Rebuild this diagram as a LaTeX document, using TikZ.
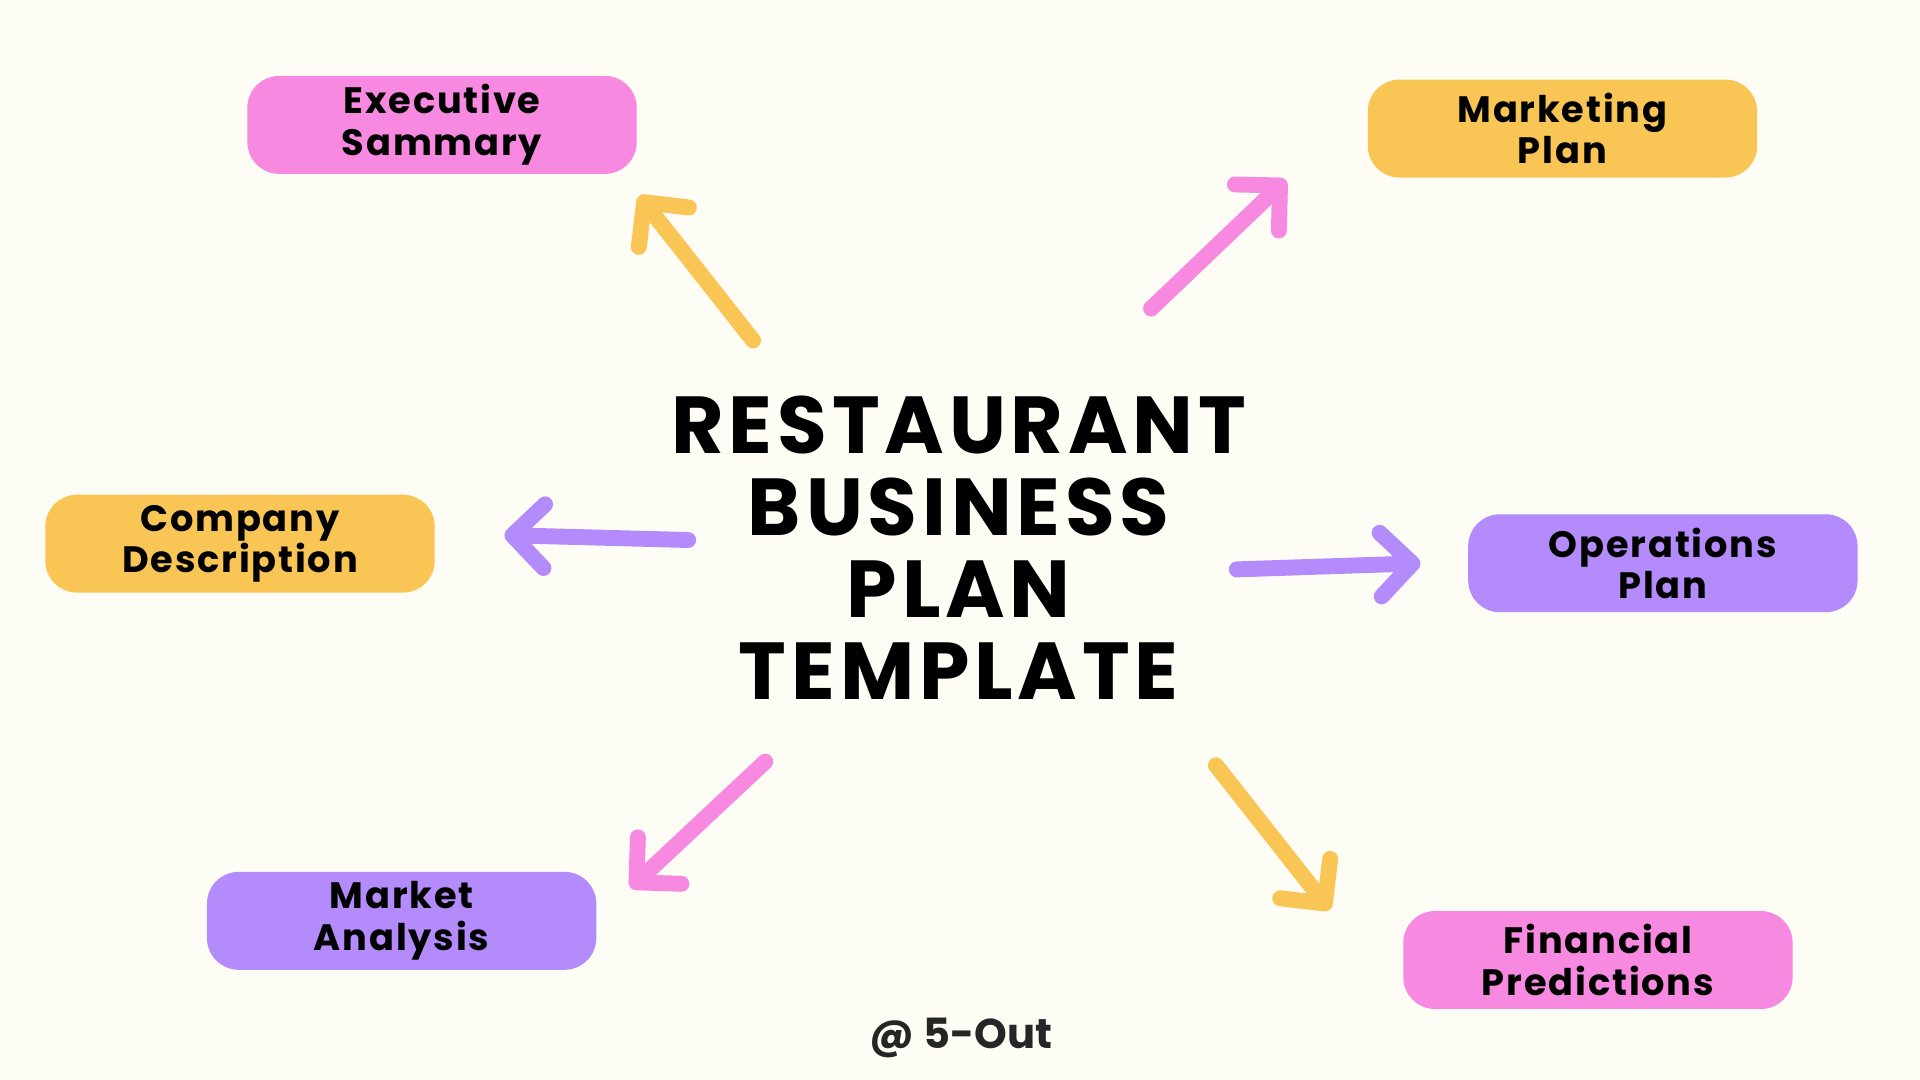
\documentclass[tikz,border=0pt]{standalone}
\usepackage{fontspec}
\setmainfont{Poppins}
\usetikzlibrary{arrows.meta}
\definecolor{bg}{HTML}{FEFDF5}
\definecolor{pk}{HTML}{F78AE0}
\definecolor{og}{HTML}{F9C555}
\definecolor{pu}{HTML}{B38BFA}
\tikzset{
 box/.style={rounded corners=13pt,inner sep=0pt,minimum width=159pt,minimum height=40pt,font=\bfseries\fontsize{15}{17}\selectfont\addfontfeature{LetterSpace=5},align=center},
 arr/.style={line width=6.5pt,line cap=round,-{Straight Barb[length=13pt,width=26pt,round]}}
}
\begin{document}
\begin{tikzpicture}[x={(0.5pt,0)},y={(0,-0.5pt)}]
\fill[bg] (0,0) rectangle (1568,882);
\useasboundingbox (0,0) rectangle (1568,882);
\node[box,fill=pk] (exe) at (361,102) {Executive\\Sammary};
\node[box,fill=og] (mkt) at (1276,105) {Marketing\\Plan};
\node[box,fill=og] (com) at (196,444) {Company\\Description};
\node[box,fill=pu] (ops) at (1358,460) {Operations\\Plan};
\node[box,fill=pu] (ma) at (328,752) {Market\\Analysis};
\node[box,fill=pk] (fin) at (1305,784) {Financial\\Predictions};
\node[font=\bfseries\fontsize{33}{33.5}\selectfont\addfontfeature{LetterSpace=6},align=center,inner sep=0pt] (title) at (783,447)
 {RESTAURANT\\BUSINESS\\PLAN\\TEMPLATE};
\node[font=\bfseries\fontsize{17}{17}\selectfont,text=black!85] (cr) at (785,848) {@ 5-Out};
\coordinate (a1) at (615,278); \coordinate (b1) at (522,160);
\coordinate (a2) at (940,252); \coordinate (b2) at (1050,147);
\coordinate (a3) at (562,441); \coordinate (b3) at (412,437);
\coordinate (a4) at (1010,465); \coordinate (b4) at (1160,460);
\coordinate (a5) at (625,622); \coordinate (b5) at (515,725);
\coordinate (a6) at (993,625); \coordinate (b6) at (1086,743);
\draw[arr,og] (a1) -- (b1);
\draw[arr,pk] (a2) -- (b2);
\draw[arr,pu] (a3) -- (b3);
\draw[arr,pu] (a4) -- (b4);
\draw[arr,pk] (a5) -- (b5);
\draw[arr,og] (a6) -- (b6);
\end{tikzpicture}
\end{document}
